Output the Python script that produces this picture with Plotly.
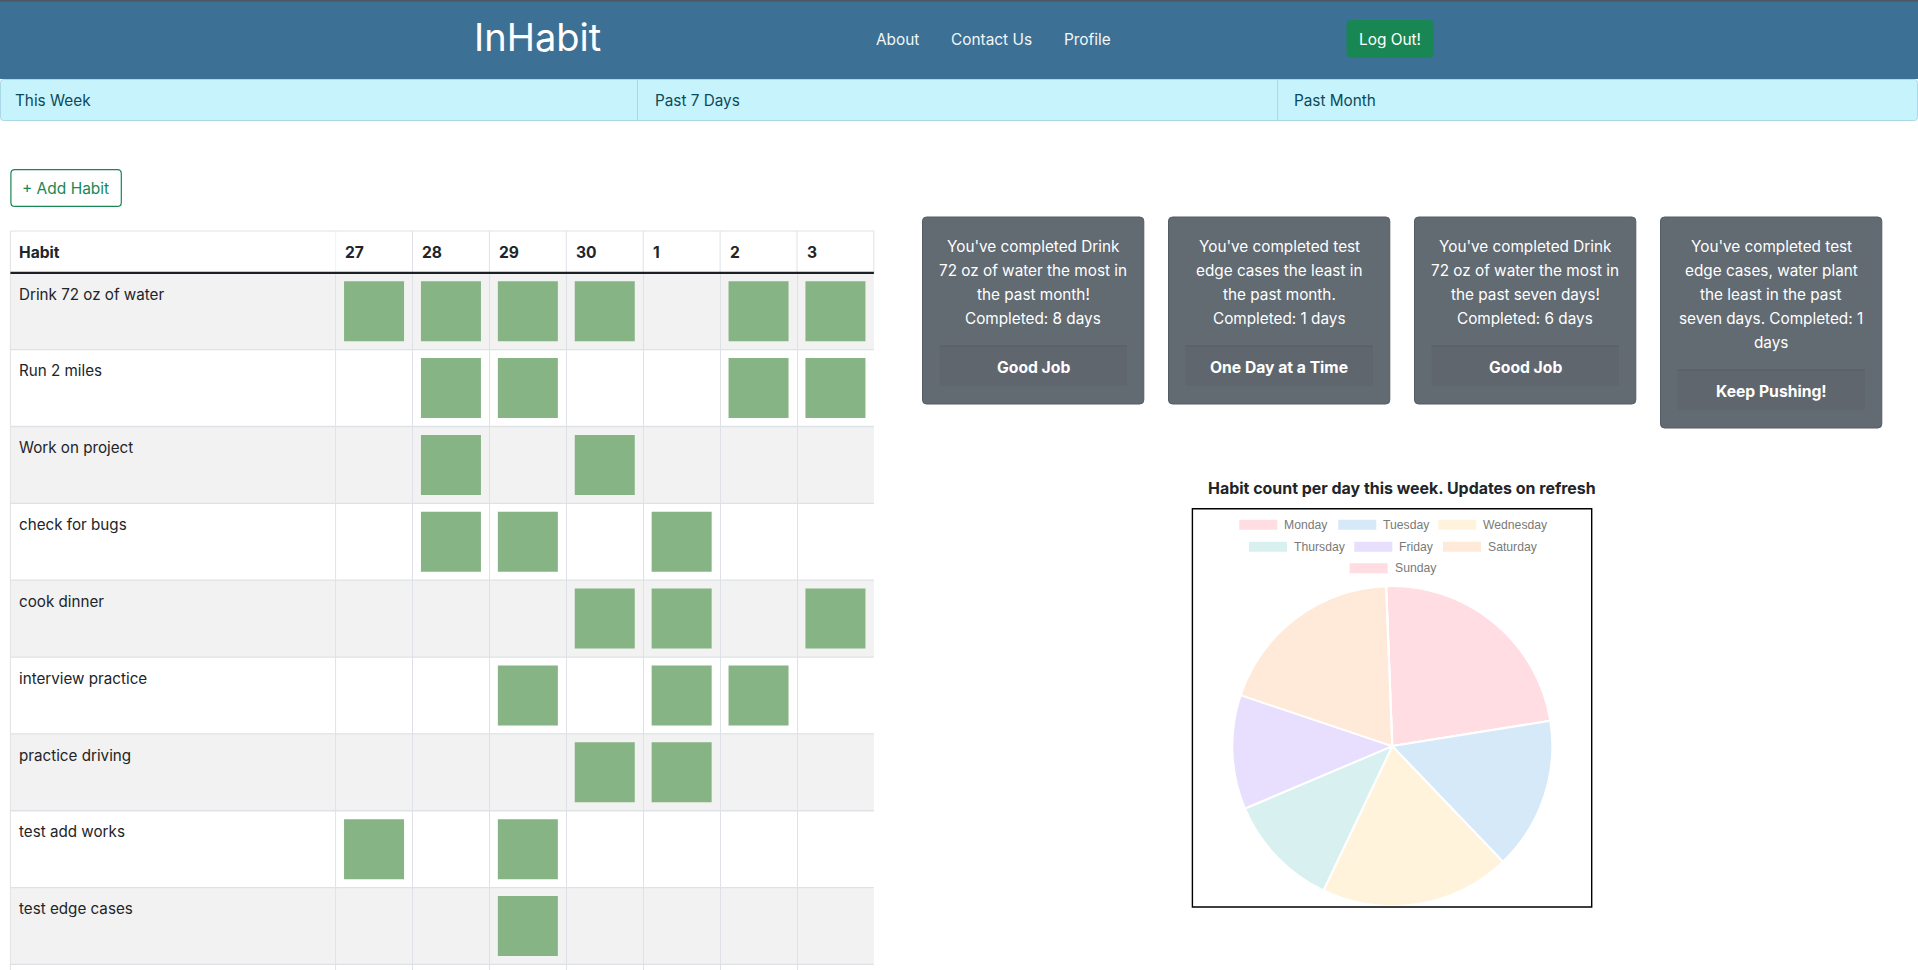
import plotly.graph_objects as go

FONT = "Inter"
W, H = 1918, 970

# ---- data ----
days = ["27", "28", "29", "30", "1", "2", "3"]
habits = ["Drink 72 oz of water", "Run 2 miles", "Work on project", "check for bugs", "cook dinner",
          "interview practice", "practice driving", "test add works", "test edge cases"]
done = [
    [1, 1, 1, 1, 0, 1, 1],
    [0, 1, 1, 0, 0, 1, 1],
    [0, 1, 0, 1, 0, 0, 0],
    [0, 1, 1, 0, 1, 0, 0],
    [0, 0, 0, 1, 1, 0, 1],
    [0, 0, 1, 0, 1, 1, 0],
    [0, 0, 0, 1, 1, 0, 0],
    [1, 0, 1, 0, 0, 0, 0],
    [0, 0, 1, 0, 0, 0, 0],
]
weekdays = ["Monday", "Tuesday", "Wednesday", "Thursday", "Friday", "Saturday", "Sunday"]
day_counts = [6, 4, 5, 3, 3, 5, 0]
pie_colors = ["rgb(255,221,227)", "rgb(214,233,249)", "rgb(255,243,220)", "rgb(216,241,240)",
              "rgb(232,222,253)", "rgb(255,233,216)", "rgb(255,221,227)"]
cards = [
    (["You've completed Drink", "72 oz of water the most in", "the past month!", "Completed: 8 days"], "Good Job"),
    (["You've completed test", "edge cases the least in", "the past month.", "Completed: 1 days"], "One Day at a Time"),
    (["You've completed Drink", "72 oz of water the most in", "the past seven days!", "Completed: 6 days"], "Good Job"),
    (["You've completed test", "edge cases, water plant", "the least in the past", "seven days. Completed: 1", "days"], "Keep Pushing!"),
]
nav_links = ["About", "Contact Us", "Profile"]
tabs = ["This Week", "Past 7 Days", "Past Month"]

# ---- layout constants (pixels on the page) ----
T_L, T_C, T_R = 10.4, 335.6, 873.9
T_TOP, T_HEAD = 231, 272.8
ROW_H = 76.85

shapes, ann = [], []


def rect(x0, y0, x1, y1, fill, line=None, lw=1, r=0, layer="below"):
    if r:
        path = (f"M{x0+r},{y0} L{x1-r},{y0} Q{x1},{y0} {x1},{y0+r} L{x1},{y1-r} Q{x1},{y1} {x1-r},{y1} "
                f"L{x0+r},{y1} Q{x0},{y1} {x0},{y1-r} L{x0},{y0+r} Q{x0},{y0} {x0+r},{y0} Z")
        s = dict(type="path", path=path)
    else:
        s = dict(type="rect", x0=x0, y0=y0, x1=x1, y1=y1)
    s.update(xref="x2", yref="y2", fillcolor=fill, layer=layer,
             line=dict(color=line or "rgba(0,0,0,0)", width=lw if line else 0))
    shapes.append(s)


def text(x, y, s, size=15.4, color="#212529", anchor="left", family=FONT):
    ann.append(dict(xref="x2", yref="y2", x=x, y=y, text=s, showarrow=False, xanchor=anchor, yanchor="middle",
                    font=dict(family=family, size=size, color=color), borderpad=0, borderwidth=0))


# navbar
rect(0, 0, W, 79, "#3c7095")
rect(0, 0, W, 1.5, "#4c5761")
text(537, 36.5, "InHabit", size=38, color="#ffffff", anchor="center")
for s, x in zip(nav_links, [876, 951.2, 1064]):
    text(x, 39, s, color="#f3f6f8")
rect(1346.5, 20, 1434, 57.7, "#198754", r=5)
text(1389.5, 39, "Log Out!", color="#ffffff", anchor="center")

# tab strip
rect(0.5, 79.5, 1917.5, 120.5, "#c7f3fd", "#a9d8e6", 1, r=3)
for x in [637.5, 1277.6]:
    rect(x - 0.5, 80, x + 0.5, 120, "#a9d8e6")
for s, x in zip(tabs, [14.7, 654.6, 1294]):
    text(x, 100.5, s, size=15.3, color="#0b4a58")

# add button
rect(10.9, 169.6, 121.3, 206.4, "#ffffff", "#198754", 1.2, r=4)
text(65.5, 188, "+ Add Habit", size=15.5, color="#198754", anchor="center")

# table header
rect(T_L, T_TOP, T_R, T_HEAD, "#ffffff", "#dee2e6", 1)
text(19.4, 252, "<b>Habit</b>", size=15.6)
for i, d in enumerate(days):
    ann.append(dict(xref="x", yref="y2", x=i - 0.5, xshift=7.6, y=252, text=f"<b>{d}</b>", showarrow=False,
                    xanchor="left", yanchor="middle", font=dict(family=FONT, size=15.6, color="#212529")))
    shapes.append(dict(type="line", xref="x", yref="y2", x0=i - 0.5, x1=i - 0.5, y0=T_TOP, y1=T_HEAD,
                       line=dict(color="#dee2e6", width=1), layer="above"))

# table body: stripes, rules and names use the row axis
for r, name in enumerate(habits):
    if r % 2 == 0:
        shapes.append(dict(type="rect", xref="paper", yref="y", x0=T_L / W, x1=T_R / W, y0=r - 0.5, y1=r + 0.5,
                           fillcolor="#f2f2f2", line=dict(width=0), layer="below"))
    ann.append(dict(xref="x2", yref="y", x=17.2, y=r - 0.5, yshift=-21.2, text=name, showarrow=False, xanchor="left",
                    yanchor="middle", font=dict(family=FONT, size=15.2, color="#212529")))
for r in range(1, len(habits) + 1):
    shapes.append(dict(type="line", xref="paper", yref="y", x0=T_L / W, x1=T_R / W, y0=r - 0.5, y1=r - 0.5,
                       line=dict(color="#dee2e6", width=1.3), layer="above"))
for x in [T_L, T_C]:
    shapes.append(dict(type="line", xref="x2", yref="paper", x0=x, x1=x, y0=0, y1=(H - T_HEAD) / H,
                       line=dict(color="#dee2e6", width=1), layer="above"))
rect(T_L, T_HEAD - 1.1, T_R, T_HEAD + 1.1, "#1c2024", layer="above")

# cards
for (lines, footer), x0 in zip(cards, [922.5, 1168.5, 1414.5, 1660.5]):
    n = len(lines)
    x1 = x0 + 221.3
    cx = (x0 + x1) / 2
    foot_top = 250 + 24 * n
    rect(x0, 217, x1, foot_top + 58, "#626a72", "#555c64", 1, r=4)
    rect(x0 + 17, foot_top, x1 - 17, foot_top + 40, "#5f666e")
    rect(x0 + 17, foot_top - 0.6, x1 - 17, foot_top + 0.6, "#555c64")
    for i, line in enumerate(lines):
        text(cx, 246.7 + 24 * i, line, size=15.3, color="#ffffff", anchor="center")
    text(cx, foot_top + 21.3, f"<b>{footer}</b>", size=15.7, color="#ffffff", anchor="center")

# pie panel
text(1402, 488.3, "<b>Habit count per day this week. Updates on refresh</b>", size=15.95, anchor="center")
rect(1192.4, 508.7, 1591.7, 907, "rgba(0,0,0,0)", "#000000", 1.4, layer="above")
LEG = [(1239.3, 524.7), (1338.3, 524.7), (1438.3, 524.7), (1249, 546.7), (1354.3, 546.7), (1443, 546.7),
       (1349.7, 568.3)]
for name, col, (x, y) in zip(weekdays, pie_colors, LEG):
    rect(x, y - 5, x + 38, y + 5, col)
    text(x + 45, y, name, size=12.2, color="#7a7a7a", family="Liberation Sans")

# ---- traces ----
cx_done, cy_done = [], []
for r, row in enumerate(done):
    for c, v in enumerate(row):
        if v:
            cx_done.append(c)
            cy_done.append(r)

fig = go.Figure()
fig.add_trace(go.Scatter(x=cx_done, y=cy_done, mode="markers", showlegend=False, hoverinfo="skip",
                         marker=dict(symbol="square", size=60, color="#86b484", line=dict(width=0))))
fig.add_trace(go.Scatter(x=[0], y=[0], xaxis="x2", yaxis="y2", mode="markers", showlegend=False,
                         hoverinfo="skip", marker=dict(opacity=0)))
PCX, PCY, PR = 1392.3, 746.1, 160
fig.add_trace(go.Pie(labels=weekdays, values=day_counts, sort=False, direction="clockwise", rotation=-2.2,
                     textinfo="none", hoverinfo="skip", showlegend=False,
                     marker=dict(colors=pie_colors, line=dict(color="#ffffff", width=2)),
                     domain=dict(x=[(PCX - PR) / W, (PCX + PR) / W], y=[1 - (PCY + PR) / H, 1 - (PCY - PR) / H])))

n_rows_shown = (H - T_HEAD) / ROW_H
fig.update_layout(
    width=W, height=H, margin=dict(l=0, r=0, t=0, b=0, pad=0), autosize=False,
    paper_bgcolor="#ffffff", plot_bgcolor="rgba(0,0,0,0)", showlegend=False,
    shapes=shapes, annotations=ann,
    xaxis=dict(domain=[T_C / W, T_R / W], range=[-0.5, len(days) - 0.5], tick0=-0.5, dtick=1, showgrid=True,
               gridcolor="#dee2e6", gridwidth=1, zeroline=False, showticklabels=False, ticks="", showline=False,
               fixedrange=True, anchor="y"),
    yaxis=dict(domain=[0, 1 - T_HEAD / H], range=[n_rows_shown - 0.5, -0.5], showgrid=False, zeroline=False,
               showticklabels=False, ticks="", showline=False, fixedrange=True, anchor="x"),
    xaxis2=dict(domain=[0, 1], range=[0, W], visible=False, fixedrange=True, anchor="y2"),
    yaxis2=dict(domain=[0, 1], range=[H, 0], visible=False, fixedrange=True, anchor="x2"),
)

fig.write_html("out.html", config=dict(displayModeBar=False),
               post_script="document.body.style.margin='0';document.body.style.overflow='hidden';")
